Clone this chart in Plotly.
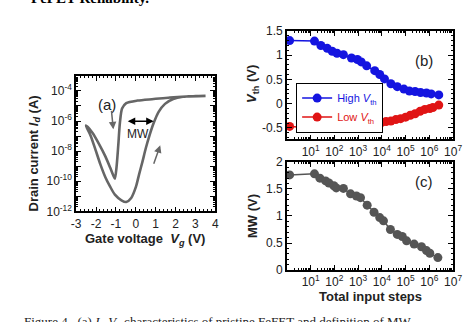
import plotly.graph_objects as go

# ---------------- data ----------------
vg_sweep = [-2.51, -2.27, -2.02, -1.78, -1.53, -1.29, -1.05, -0.72, -0.48, -0.23, 0.01, 0.17,
            0.34, 0.50, 0.71, 0.90, 1.15, 1.47, 1.88, 2.37, 3.02, 3.51,
            2.53, 1.72, 0.90, 0.09, -0.48, -0.69, -0.80, -0.88, -0.97, -1.05, -1.13, -1.29,
            -1.53, -1.86, -2.19, -2.51]
id_sweep = [5.0e-7, 1.07e-7, 1.17e-8, 1.32e-9, 1.86e-10, 4.4e-11, 1.29e-11, 5.4e-12, 4.2e-12,
            7.8e-12, 4.4e-11, 3.0e-10, 2.1e-9, 1.5e-8, 1.35e-7, 7.4e-7, 4.1e-6, 1.38e-5, 2.9e-5,
            4.1e-5, 4.5e-5, 4.7e-5,
            4.3e-5, 3.7e-5, 2.9e-5, 2.3e-5, 1.55e-5, 6.8e-6, 7.4e-7, 2.5e-8, 8.1e-10, 1.48e-10,
            2.4e-10, 8.1e-10, 4.5e-9, 3.2e-8, 1.74e-7, 5.0e-7]

steps_high = [1.3, 14.5, 27, 50, 81, 129, 240, 525, 933, 1350, 2290, 5010, 8130, 12900, 24000,
              44700, 85100, 145000, 251000, 427000, 759000, 1.2e6, 2.5e6]
vth_high = [1.30, 1.29, 1.20, 1.14, 1.08, 1.04, 1.01, 0.94, 0.91, 0.86, 0.78, 0.68, 0.60, 0.51,
            0.41, 0.35, 0.30, 0.26, 0.25, 0.23, 0.22, 0.20, 0.18]
steps_low = [1.3, 14.5, 23, 37, 59, 95, 151, 240, 447, 776, 1350, 2290, 3720, 5890, 9550, 15100,
             24000, 38900, 61700, 100000, 158000, 251000, 407000, 646000, 1.05e6, 1.41e6, 2.5e6]
vth_low = [-0.47, -0.51, -0.51, -0.51, -0.51, -0.51, -0.49, -0.49, -0.47, -0.45, -0.44, -0.44,
           -0.43, -0.41, -0.39, -0.37, -0.36, -0.33, -0.31, -0.28, -0.24, -0.21, -0.16, -0.12,
           -0.10, -0.08, -0.03]

steps_mw = [1.3, 14.5, 24.5, 42.7, 58.9, 95, 120, 240, 479, 851, 1260, 2400, 4680, 8130, 11700,
            22900, 44700, 72400, 110000, 229000, 468000, 759000, 1.05e6, 2.29e6]
mw_vals = [1.76, 1.78, 1.70, 1.65, 1.61, 1.56, 1.52, 1.51, 1.41, 1.37, 1.34, 1.20, 1.07, 0.97,
           0.91, 0.75, 0.66, 0.62, 0.54, 0.48, 0.43, 0.36, 0.31, 0.23]

a_xticks = [-3, -2, -1, 0, 1, 2, 3, 4]
a_xtext = ["-3", "-2", "-1", "0", "1", "2", "3", "4"]
a_yexp = [-12, -11, -10, -9, -8, -7, -6, -5, -4, -3]
b_yticks = [-0.5, 0, 0.5, 1, 1.5]
b_ytext = ["-0.5", "0", "0.5", "1", "1.5"]
c_yticks = [0, 0.5, 1, 1.5, 2]
c_ytext = ["0", "0.5", "1", "1.5", "2"]
step_exp = [0, 1, 2, 3, 4, 5, 6, 7]

# ---------------- figure ----------------
W, H = 474, 322
FONT = "Liberation Sans, Arial, sans-serif"
GRAY = "#666666"
BLUE = "#1414e0"
RED = "#e01414"
MWC = "#555555"


def px(x):
    return x / W


def py(y):
    return 1 - y / H


fig = go.Figure()

fig.add_trace(go.Scatter(x=vg_sweep, y=id_sweep, mode="lines",
                         line=dict(color=GRAY, width=2.6, shape="spline", smoothing=0.7),
                         xaxis="x", yaxis="y", showlegend=False))

fig.add_trace(go.Scatter(x=steps_high, y=vth_high, mode="lines+markers",
                         name='<span style="color:%s">High <i>V</i><sub>th</sub></span>' % BLUE,
                         line=dict(color=BLUE, width=1.5), cliponaxis=False,
                         marker=dict(color=BLUE, size=9), xaxis="x2", yaxis="y2"))
fig.add_trace(go.Scatter(x=steps_low, y=vth_low, mode="lines+markers",
                         name='<span style="color:%s">Low <i>V</i><sub>th</sub></span>' % RED,
                         line=dict(color=RED, width=1.5), cliponaxis=False,
                         marker=dict(color=RED, size=9), xaxis="x2", yaxis="y2"))

fig.add_trace(go.Scatter(x=steps_mw, y=mw_vals, mode="lines+markers",
                         line=dict(color=MWC, width=1.5), cliponaxis=False,
                         marker=dict(color=MWC, size=9), xaxis="x3", yaxis="y3",
                         showlegend=False))

axis_common = dict(showline=True, linecolor="black", linewidth=1.6, mirror="ticks",
                   ticks="inside", ticklen=5, tickwidth=1, tickcolor="black",
                   showgrid=False, zeroline=False,
                   tickfont=dict(family=FONT, size=12, color="#222"))

decade_minor = []
for e in range(0, 7):
    for m in range(2, 10):
        decade_minor.append(m * 10 ** e)

a_ytext = []
for e in a_yexp:
    a_ytext.append("10<sup>%d</sup>" % e if e % 2 == 0 else "")
a_minor = []
for e in a_yexp[:-1]:
    for m in (2, 3, 4, 5, 6, 7, 8, 9):
        a_minor.append(m * 10.0 ** e)

fig.update_layout(
    width=W, height=H,
    margin=dict(l=0, r=0, t=0, b=0),
    paper_bgcolor="white", plot_bgcolor="white",
    font=dict(family=FONT, size=12, color="#222"),
    xaxis=dict(domain=[px(73.3), px(216.7)], range=[-3, 4], anchor="y",
               tickmode="array", tickvals=a_xticks, ticktext=a_xtext,
               minor=dict(dtick=0.2, ticks="inside", ticklen=2.5, tickcolor="black"),
               **axis_common),
    yaxis=dict(domain=[py(213.7), py(72)], type="log", range=[-12, -3], anchor="x",
               tickmode="array", tickvals=[10.0 ** e for e in a_yexp], ticktext=a_ytext,
               minor=dict(tickmode="array", tickvals=a_minor, ticks="inside", ticklen=2.5,
                          tickcolor="black"),
               **axis_common),
    xaxis2=dict(domain=[px(290.5), px(461.7)], type="log", range=[0, 7], anchor="y2",
                tickmode="array", tickvals=[10 ** e for e in step_exp],
                ticktext=["10<sup>%d</sup>" % e if e > 0 else "" for e in step_exp],
                minor=dict(tickmode="array", tickvals=decade_minor, ticks="inside",
                           ticklen=2.5, tickcolor="black"),
                **axis_common),
    yaxis2=dict(domain=[py(138.5), py(25)], range=[-0.74, 1.5], anchor="x2",
                tickmode="array", tickvals=b_yticks, ticktext=b_ytext,
                minor=dict(dtick=0.1, ticks="inside", ticklen=2.5, tickcolor="black"),
                **axis_common),
    xaxis3=dict(domain=[px(290.5), px(461.7)], type="log", range=[0, 7], anchor="y3",
                tickmode="array", tickvals=[10 ** e for e in step_exp],
                ticktext=["10<sup>%d</sup>" % e if e > 0 else "" for e in step_exp],
                minor=dict(tickmode="array", tickvals=decade_minor, ticks="inside",
                           ticklen=2.5, tickcolor="black"),
                **axis_common),
    yaxis3=dict(domain=[py(275), py(162)], range=[0, 2], anchor="x3",
                tickmode="array", tickvals=c_yticks, ticktext=c_ytext,
                minor=dict(dtick=0.1, ticks="inside", ticklen=2.5, tickcolor="black"),
                **axis_common),
    legend=dict(x=px(300), y=py(79), xanchor="left", yanchor="top",
                bgcolor="white", bordercolor="black", borderwidth=1,
                font=dict(family=FONT, size=11), itemwidth=30, tracegroupgap=0),
)

ann = []
ann.append(dict(text="Drain current <i>I<sub>d</sub></i> (A)", x=px(30), y=py(153),
                textangle=-90, font=dict(size=13, family=FONT, color="#222")))
ann.append(dict(text="Gate voltage  <i>V<sub>g</sub></i> (V)", x=px(144), y=py(243),
                font=dict(size=13, family=FONT, color="#222")))
ann.append(dict(text="<i>V</i><sub>th</sub> (V)", x=px(255), y=py(80), textangle=-90,
                font=dict(size=13, family=FONT, color="#222")))
ann.append(dict(text="MW (V)", x=px(255), y=py(218), textangle=-90,
                font=dict(size=13, family=FONT, color="#222")))
ann.append(dict(text="Total input steps", x=px(376.5), y=py(302.5),
                font=dict(size=13, family=FONT, color="#222")))
for a in ann:
    a.update(xref="paper", yref="paper", showarrow=False, xanchor="center", yanchor="middle")
    a["text"] = "<b>" + a["text"] + "</b>"

for t, x, y in (("(a)", 93.5, 91), ("(b)", 443, 45), ("(c)", 443, 182)):
    ann.append(dict(text=t, x=px(x), y=py(y), xref="paper", yref="paper", showarrow=False,
                    font=dict(size=15, family=FONT, color="#222")))

ann.append(dict(x=-1.13, y=-6.55, xref="x", yref="y", ax=-2, ay=-20, showarrow=True,
                arrowhead=2, arrowsize=1, arrowwidth=1.5, arrowcolor=GRAY, text=""))
ann.append(dict(x=1.23, y=-7.61, xref="x", yref="y", ax=-7, ay=20, showarrow=True,
                arrowhead=2, arrowsize=1, arrowwidth=1.5, arrowcolor=GRAY, text=""))
ann.append(dict(x=0.90, y=-6.02, xref="x", yref="y", ax=-0.48, ay=-6.02, axref="x", ayref="y",
                showarrow=True, arrowhead=2, startarrowhead=2, arrowside="end+start",
                arrowsize=1, arrowwidth=1.5, arrowcolor="black", text=""))
ann.append(dict(text="MW", x=0.09, y=-6.87, xref="x", yref="y", showarrow=False,
                font=dict(size=12, family=FONT, color="#222")))

ann.append(dict(text="<b>FeFET Reliability.</b>", x=px(25), y=py(1), xref="paper", yref="paper",
                xanchor="left", yanchor="bottom", showarrow=False,
                font=dict(size=15, family="Liberation Serif, serif", color="black")))
ann.append(dict(text="Figure 4.  (a) <i>I<sub>d</sub></i>-<i>V<sub>g</sub></i> characteristics of pristine FeFET and definition of MW",
                x=px(18), y=py(319), xref="paper", yref="paper", xanchor="left", yanchor="top",
                showarrow=False, font=dict(size=13, family="Liberation Serif, serif", color="#222")))

fig.update_layout(annotations=ann)
fig.write_html("out.html")
